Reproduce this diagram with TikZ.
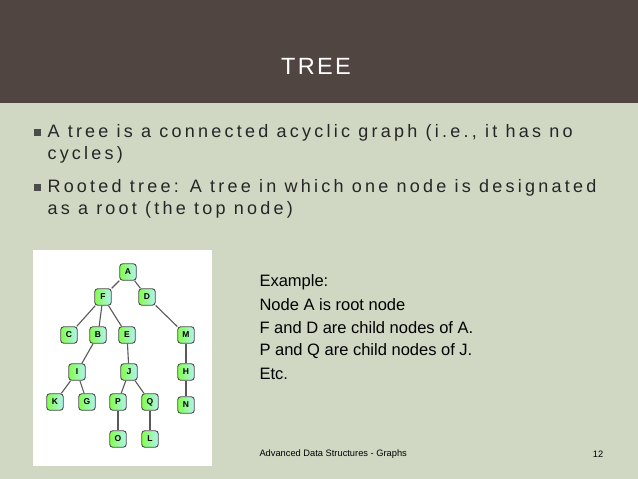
\documentclass[tikz,border=0pt]{standalone}
\usepackage{fontspec}
\setmainfont{Liberation Sans}
\newfontfamily\spaced[LetterSpace=18]{Liberation Sans}
\newfontfamily\titlef[LetterSpace=10]{Liberation Sans}
\begin{document}
\begin{tikzpicture}[x=1pt,y=-1pt,
  tn/.style={draw=black!70,line width=0.9pt,rounded corners=3pt,minimum size=16.5pt,inner sep=0pt,
    left color=green!60!lime!70!white,right color=teal!35!cyan!30!white,font=\bfseries\fontsize{8.5}{9}\selectfont},
  edge/.style={draw=black!65,line width=1.1pt},
  bul/.style={anchor=west,font=\spaced\fontsize{18}{20}\selectfont,text=black!85},
  mk/.style={anchor=center,fill=black!70,minimum size=7pt,inner sep=0pt},
  ex/.style={anchor=west,font=\fontsize{16.5}{19}\selectfont}]
\useasboundingbox (0,0) rectangle (638,479);
\fill[fill={rgb,255:red,208;green,216;blue,196}] (0,0) rectangle (638,479);
\fill[fill={rgb,255:red,80;green,69;blue,64}] (0,0) rectangle (638,103);
\node[text=white,font=\titlef\fontsize{23.5}{26}\selectfont] (title) at (316,66) {TREE};
\node[mk] (m1) at (37,132) {};
\node[bul] (b1) at (44,133) {A tree is a connected acyclic graph (i.e., it has no};
\node[bul] (b1b) at (44,155) {cycles)};
\node[mk] (m2) at (37,187) {};
\node[bul] (b2) at (44,188) {Rooted tree: A tree in which one node is designated};
\node[bul] (b2b) at (44,210) {as a root (the top node)};
\fill[white] (33,250) rectangle (212,466);
\node[tn] (A) at (128,272) {A};
\node[tn] (F) at (103,297) {F};
\node[tn] (D) at (147,297) {D};
\node[tn] (C) at (69,335) {C};
\node[tn] (B) at (98,335) {B};
\node[tn] (E) at (127,335) {E};
\node[tn] (M) at (186,335) {M};
\node[tn] (I) at (77,372) {I};
\node[tn] (J) at (129,372) {J};
\node[tn] (H) at (186,372) {H};
\node[tn] (K) at (55,402) {K};
\node[tn] (G) at (87,402) {G};
\node[tn] (P) at (118,402) {P};
\node[tn] (Q) at (150,402) {Q};
\node[tn] (N) at (186,405) {N};
\node[tn] (O) at (118,439) {O};
\node[tn] (L) at (150,439) {L};
\foreach \a/\b in {A/F,A/D,F/C,F/B,F/E,D/M,B/I,E/J,M/H,I/K,I/G,J/P,J/Q,H/N,P/O,Q/L}
  \draw[edge] (\a) -- (\b);
\node[ex] (e1) at (256,282) {Example:};
\node[ex] (e2) at (256,305) {Node A is root node};
\node[ex] (e3) at (256,328) {F and D are child nodes of A.};
\node[ex] (e4) at (256,351) {P and Q are child nodes of J.};
\node[ex] (e5) at (256,374) {Etc.};
\node[anchor=west,font=\fontsize{9.3}{10}\selectfont] (foot) at (256,454) {Advanced Data Structures - Graphs};
\node[font=\fontsize{9.3}{10}\selectfont] (num) at (598,454) {12};
\end{tikzpicture}
\end{document}
